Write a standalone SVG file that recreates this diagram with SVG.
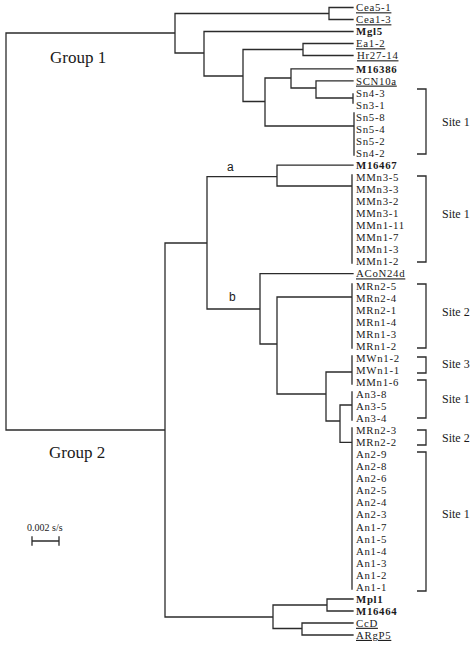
<svg xmlns="http://www.w3.org/2000/svg" width="474" height="646" viewBox="0 0 474 646">
<style>
.ln{fill:none;stroke:#2b2b2b;stroke-width:1.3;stroke-linecap:square}
.br{fill:none;stroke:#2b2b2b;stroke-width:1.3}
text{font-family:"Liberation Serif","Times New Roman",serif;font-size:12px;fill:#1a1a1a}
#leaves text{font-size:10.8px;letter-spacing:0.7px}
.b{font-weight:bold}
.u{text-decoration:underline}
.grp{font-size:17px}
.ab{font-family:"Liberation Sans",Arial,sans-serif;font-size:12px}
.sc{font-size:10px}
</style>
<rect width="474" height="646" fill="#ffffff"/>
<g id="connectors">
<path class="ln" d="M6 33V430M6 33H175M6 430H165
M175 13.5V53M175 13.5H329M175 53H204
M329 7.5V19.5M329 7.5H353M329 19.5H353
M204 31.5V76M204 31.5H353M204 76H243
M243 49.5V101.5M243 49.5H303M243 101.5H265
M303 43.5V55.5M303 43.5H353M303 55.5H353
M265 78V126M265 78H291M265 126H354
M291 68.8V88M291 68.8H353M291 88H316
M316 80.8V98M316 80.8H353M316 98H353
M353 94V103M354 113V155
M165 243V617M165 243H207M165 617H273
M207 176.7V309M207 176.7H277M207 309H260
M277 165.2V186M277 165.2H353M277 186H352
M352 175V263
M260 273.6V344M260 273.6H353M260 344H277
M277 297V394M277 297H352M277 394H326
M352 284V348
M326 372V421M326 372H352M326 421H340
M352 356V384
M340 405V442.3M340 405H352M340 442.3H352
M352 392V420
M352 428V589
M273 605V628.5M273 605H327M273 628.5H302
M327 599V611M327 599H353M327 611H353
M302 623V635M302 623H353M302 635H353"/>
</g>
<g id="brackets">
<path class="br" d="M417 89H426V154H417M417 176H426V262H417M417 284H426V348H417M417 357H426V373H417M417 380H426V418H417M417 430H426V445H417M417 452H426V591H417"/>
</g>
<g id="site-labels">
<text x="442" y="126">Site 1</text>
<text x="442" y="218">Site 1</text>
<text x="442" y="316">Site 2</text>
<text x="442" y="368">Site 3</text>
<text x="442" y="403">Site 1</text>
<text x="442" y="442">Site 2</text>
<text x="442" y="518">Site 1</text>
</g>
<g id="group-labels">
<text class="grp" x="50" y="63">Group 1</text>
<text class="grp" x="49" y="458">Group 2</text>
<text class="ab" x="227" y="171">a</text>
<text class="ab" x="229" y="301">b</text>
</g>
<g id="scale">
<text class="sc" x="27" y="531">0.002 s/s</text>
<path class="ln" d="M32 541H59M32 537V545M59 537V545"/>
</g>
<g id="leaves">
<g id="n-Cea5-1"><text class="u" x="356" y="11.3">Cea5-1</text></g>
<g id="n-Cea1-3"><text class="u" x="356" y="23.3">Cea1-3</text></g>
<g id="n-Mgl5"><text class="b" x="356" y="35.3">Mgl5</text></g>
<g id="n-Ea1-2"><text class="u" x="356" y="47.3">Ea1-2</text></g>
<g id="n-Hr27-14"><text class="u" x="357" y="59.3">Hr27-14</text></g>
<g id="n-M16386"><text class="b" x="356" y="72.6">M16386</text></g>
<g id="n-SCN10a"><text class="u" x="356" y="84.6">SCN10a</text></g>
<g id="n-Sn4-3"><text x="356" y="96.7">Sn4-3</text></g>
<g id="n-Sn3-1"><text x="356" y="108.7">Sn3-1</text></g>
<g id="n-Sn5-8"><text x="356" y="120.8">Sn5-8</text></g>
<g id="n-Sn5-4"><text x="356" y="132.8">Sn5-4</text></g>
<g id="n-Sn5-2"><text x="356" y="144.8">Sn5-2</text></g>
<g id="n-Sn4-2"><text x="356" y="156.9">Sn4-2</text></g>
<g id="n-M16467"><text class="b" x="356" y="169">M16467</text></g>
<g id="n-MMn3-5"><text x="356" y="181">MMn3-5</text></g>
<g id="n-MMn3-3"><text x="356" y="193.1">MMn3-3</text></g>
<g id="n-MMn3-2"><text x="356" y="205.1">MMn3-2</text></g>
<g id="n-MMn3-1"><text x="356" y="217.2">MMn3-1</text></g>
<g id="n-MMn1-11"><text x="356" y="229.2">MMn1-11</text></g>
<g id="n-MMn1-7"><text x="356" y="241.3">MMn1-7</text></g>
<g id="n-MMn1-3"><text x="356" y="253.3">MMn1-3</text></g>
<g id="n-MMn1-2"><text x="356" y="265.4">MMn1-2</text></g>
<g id="n-ACoN24d"><text class="u" x="356" y="277.4">ACoN24d</text></g>
<g id="n-MRn2-5"><text x="356" y="289.5">MRn2-5</text></g>
<g id="n-MRn2-4"><text x="356" y="301.5">MRn2-4</text></g>
<g id="n-MRn2-1"><text x="356" y="313.6">MRn2-1</text></g>
<g id="n-MRn1-4"><text x="356" y="325.6">MRn1-4</text></g>
<g id="n-MRn1-3"><text x="356" y="337.7">MRn1-3</text></g>
<g id="n-MRn1-2"><text x="356" y="349.7">MRn1-2</text></g>
<g id="n-MWn1-2"><text x="356" y="361.8">MWn1-2</text></g>
<g id="n-MWn1-1"><text x="356" y="373.8">MWn1-1</text></g>
<g id="n-MMn1-6"><text x="356" y="385.8">MMn1-6</text></g>
<g id="n-An3-8"><text x="356" y="397.9">An3-8</text></g>
<g id="n-An3-5"><text x="356" y="410">An3-5</text></g>
<g id="n-An3-4"><text x="356" y="422">An3-4</text></g>
<g id="n-MRn2-3"><text x="356" y="434.1">MRn2-3</text></g>
<g id="n-MRn2-2"><text x="356" y="446.1">MRn2-2</text></g>
<g id="n-An2-9"><text x="356" y="458.2">An2-9</text></g>
<g id="n-An2-8"><text x="356" y="470.2">An2-8</text></g>
<g id="n-An2-6"><text x="356" y="482.3">An2-6</text></g>
<g id="n-An2-5"><text x="356" y="494.3">An2-5</text></g>
<g id="n-An2-4"><text x="356" y="506.4">An2-4</text></g>
<g id="n-An2-3"><text x="356" y="518.4">An2-3</text></g>
<g id="n-An1-7"><text x="356" y="530.5">An1-7</text></g>
<g id="n-An1-5"><text x="356" y="542.5">An1-5</text></g>
<g id="n-An1-4"><text x="356" y="554.6">An1-4</text></g>
<g id="n-An1-3"><text x="356" y="566.6">An1-3</text></g>
<g id="n-An1-2"><text x="356" y="578.7">An1-2</text></g>
<g id="n-An1-1"><text x="356" y="590.7">An1-1</text></g>
<g id="n-Mpl1"><text class="b" x="356" y="602.8">Mpl1</text></g>
<g id="n-M16464"><text class="b" x="356" y="614.8">M16464</text></g>
<g id="n-CcD"><text class="u" x="356" y="626.8">CcD</text></g>
<g id="n-ARgP5"><text class="u" x="356" y="638.9">ARgP5</text></g>
</g>
</svg>
